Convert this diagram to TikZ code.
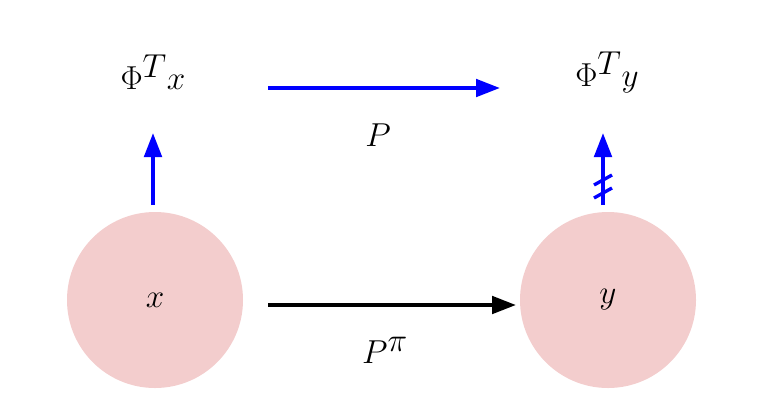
\documentclass[tikz,border=0pt]{standalone}
\usetikzlibrary{arrows.meta,calc}
\definecolor{pinkc}{RGB}{243,205,205}
\begin{document}
\begin{tikzpicture}[x=0.75pt,y=-0.75pt,
  lbl/.style={font=\fontsize{50}{60}\selectfont,inner sep=0pt},
  circ/.style={circle,fill=pinkc,minimum size=132pt,inner sep=0pt,font=\fontsize{50}{60}\selectfont},
  arr/.style={line width=3pt,-{Triangle[length=18pt,width=13pt]}},
  bl/.style={arr,blue}]
\useasboundingbox (0,0) rectangle (766,419);
\node[circ] (x) at (155,300) {$x$};
\node[circ] (y) at (608,300) {$y$};
\node[lbl] (tx) at (153,72) {$\Phi^T x$};
\node[lbl] (ty) at (607,72) {$\Phi^T y$};
\coordinate (a1) at (268,88); \coordinate (a2) at (500,88);
\coordinate (b1) at (268,305); \coordinate (b2) at (516,305);
\draw[bl] (a1) -- (a2);
\draw[arr,black] (b1) -- (b2);
\node[lbl] (p) at (378,135) {$P$};
\node[lbl] (pp) at (385,350) {$P^\pi$};
\coordinate (l1) at (153,205); \coordinate (l2) at (153,133);
\coordinate (r1) at (603,205); \coordinate (r2) at (603,133);
\draw[bl] (l1) -- (l2);
\draw[bl] (r1) -- (r2);
\coordinate (s1) at (603,193); \coordinate (s2) at (603,180);
\draw[blue,line width=2.5pt] ($(s1)+(-9,5)$) -- ($(s1)+(9,-5)$);
\draw[blue,line width=2.5pt] ($(s2)+(-9,5)$) -- ($(s2)+(9,-5)$);
\end{tikzpicture}
\end{document}
